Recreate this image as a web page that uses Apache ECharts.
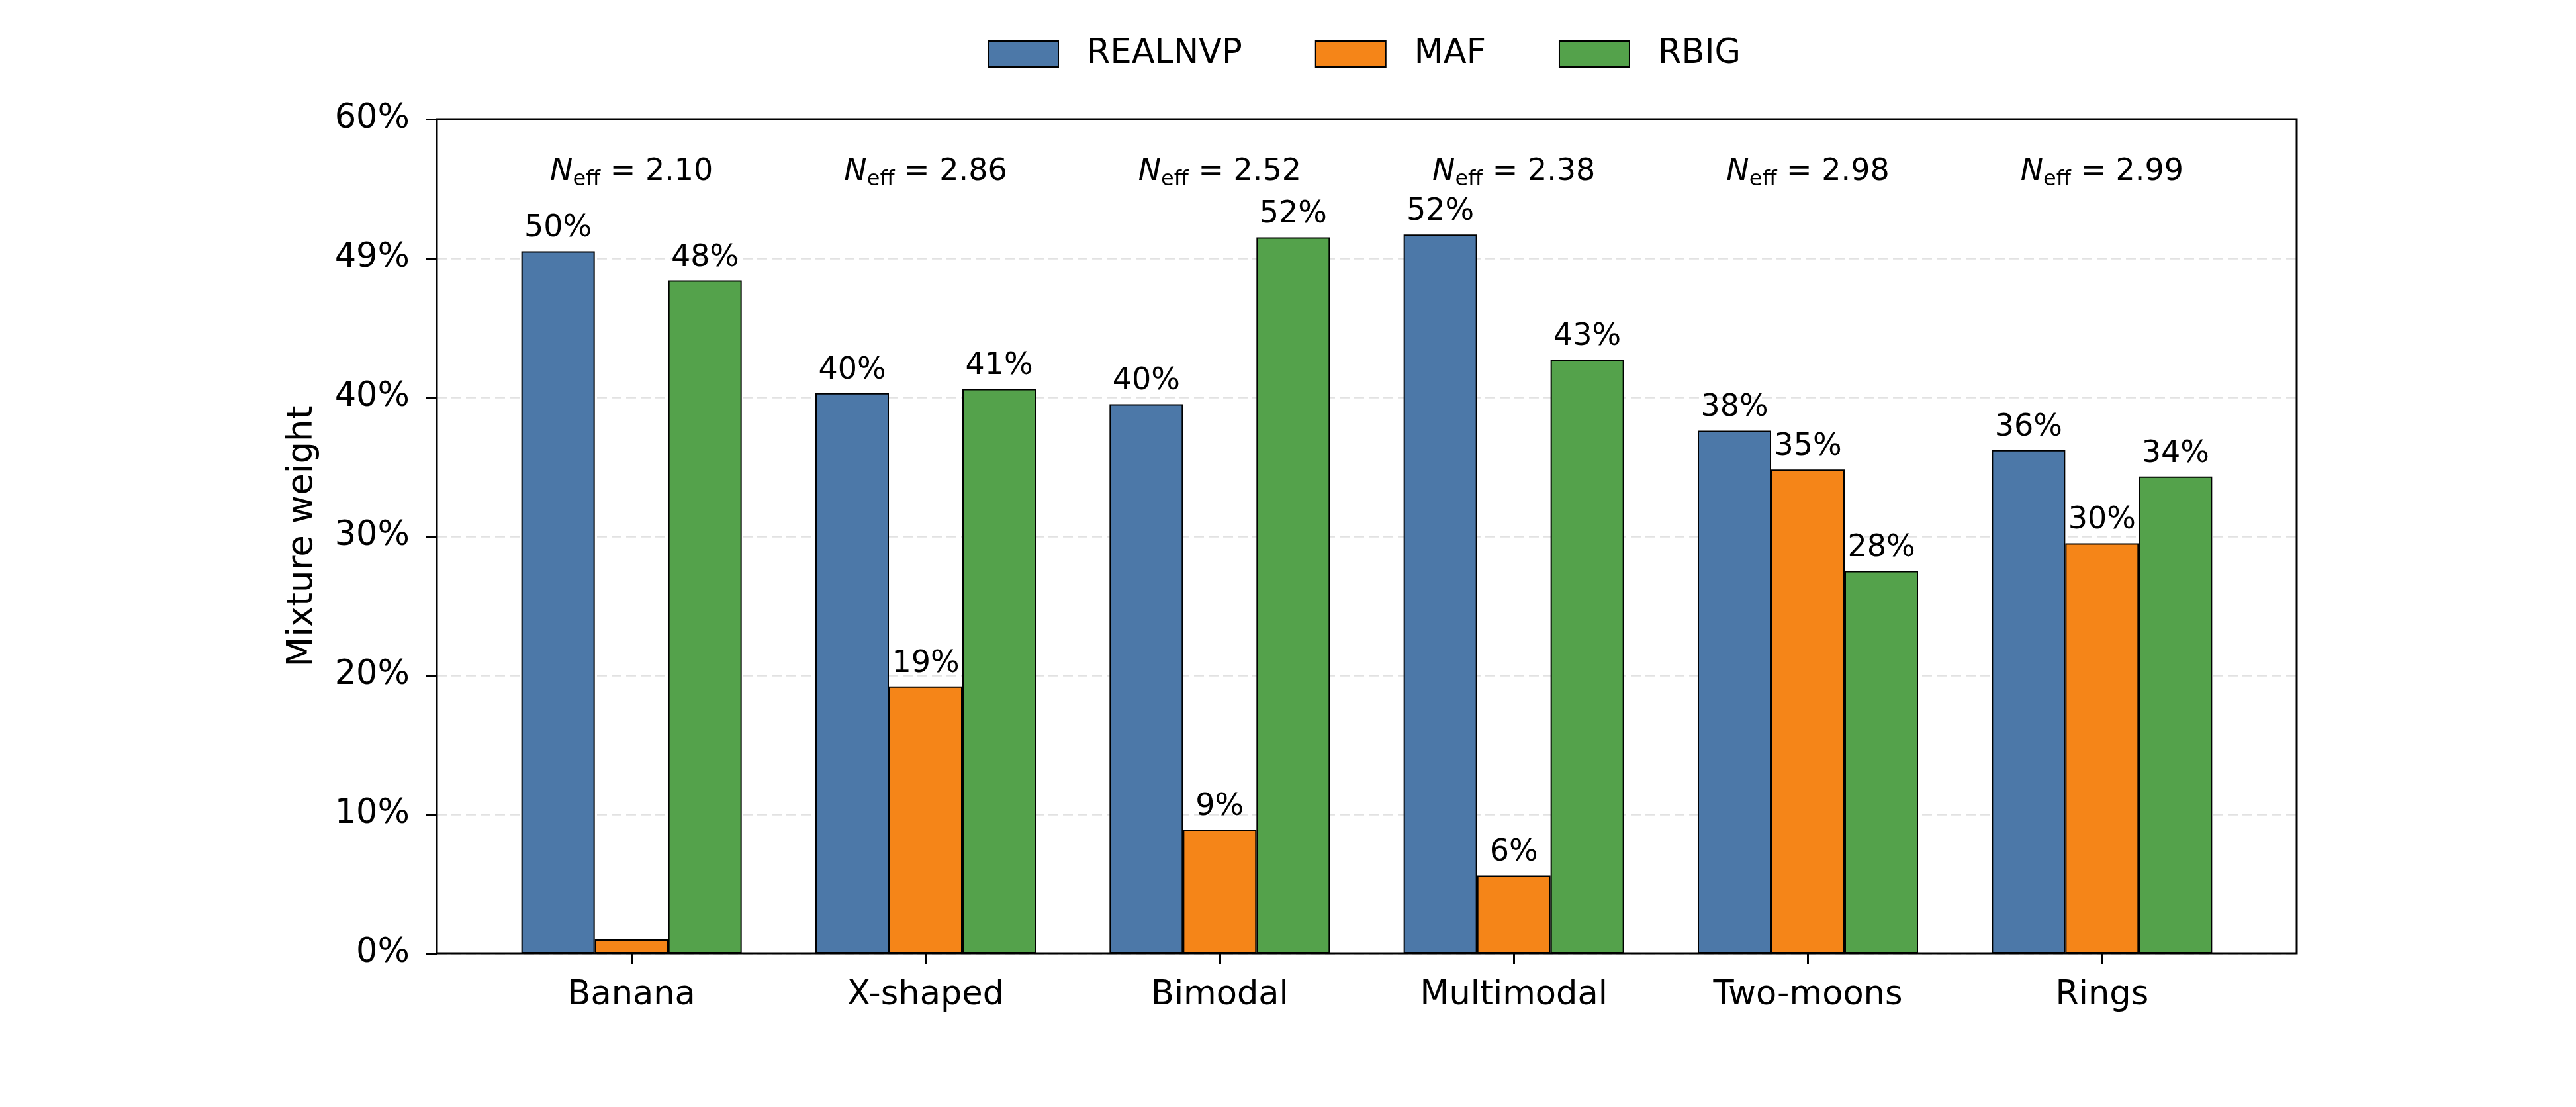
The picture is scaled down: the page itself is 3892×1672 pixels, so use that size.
<!DOCTYPE html>
<html>
<head>
<meta charset="utf-8">
<script src="https://cdn.jsdelivr.net/npm/echarts@6/dist/echarts.min.js"></script>
<style>
html,body{margin:0;padding:0;background:#fff;}
#chart{width:3892px;height:1672px;}
</style>
</head>
<body>
<div id="chart"></div>
<script>
// ---- data ----
const categories = ['Banana', 'X-shaped', 'Bimodal', 'Multimodal', 'Two-moons', 'Rings'];
const seriesNames = ['REALNVP', 'MAF', 'RBIG'];
const realnvp = [50.5, 40.3, 39.5, 51.7, 37.6, 36.2];
const maf     = [1.0, 19.2, 8.9, 5.6, 34.8, 29.5];
const rbig    = [48.4, 40.6, 51.5, 42.7, 27.5, 34.3];
const realnvpLabels = ['50%', '40%', '40%', '52%', '38%', '36%'];
const mafLabels     = ['', '19%', '9%', '6%', '35%', '30%'];
const rbigLabels    = ['48%', '41%', '52%', '43%', '28%', '34%'];
const neffValues = ['2.10', '2.86', '2.52', '2.38', '2.98', '2.99'];
const neffY = 56.2;
const yTickLabels = ['0%', '10%', '20%', '30%', '40%', '49%', '60%'];
const colors = ['#4c78a8', '#f58518', '#54a24b'];

const FONT = 'DejaVu Sans';
const values = [realnvp, maf, rbig];
const labels = [realnvpLabels, mafLabels, rbigLabels];

const chart = echarts.init(document.getElementById('chart'), null, {renderer: 'canvas'});

const barSeries = seriesNames.map((name, i) => ({
  name: name,
  type: 'bar',
  xAxisIndex: 1,
  yAxisIndex: 1,
  data: values[i],
  barWidth: 111,
  barGap: '0%',
  itemStyle: {color: colors[i], borderColor: '#000', borderWidth: 2},
  label: {
    show: true,
    position: 'top',
    distance: 11,
    fontFamily: FONT,
    fontSize: 46,
    color: '#000',
    formatter: p => labels[i][p.dataIndex]
  },
  emphasis: {disabled: true},
  animation: false
}));

const neffSeries = {
  type: 'scatter',
  xAxisIndex: 1,
  yAxisIndex: 1,
  data: categories.map((c, i) => [c, neffY]),
  symbolSize: 1,
  itemStyle: {color: 'rgba(255,255,255,0)'},
  silent: true,
  animation: false,
  emphasis: {disabled: true},
  label: {
    show: true,
    position: 'inside',
    fontFamily: FONT,
    color: '#000',
    opacity: 1,
    textBorderWidth: 0,
    formatter: p => '{n|N}{s|eff}{t| = ' + neffValues[p.dataIndex] + '}',
    rich: {
      n: {fontFamily: FONT, fontStyle: 'italic', fontSize: 46, lineHeight: 56, verticalAlign: 'middle', color: '#000', textBorderWidth: 0},
      s: {fontFamily: FONT, fontSize: 32, lineHeight: 32, verticalAlign: 'bottom', color: '#000', textBorderWidth: 0},
      t: {fontFamily: FONT, fontSize: 46, lineHeight: 56, verticalAlign: 'middle', color: '#000', textBorderWidth: 0}
    }
  }
};

const option = {
  backgroundColor: '#fff',
  animation: false,
  legend: {
    data: seriesNames,
    left: 1487,
    top: 51,
    orient: 'horizontal',
    itemWidth: 106,
    itemHeight: 39,
    itemGap: 110,
    icon: 'rect',
    itemStyle: {borderColor: '#000', borderWidth: 2},
    textStyle: {fontFamily: FONT, fontSize: 51, color: '#000', padding: [0, 0, 0, 38]},
    selectedMode: false
  },
  grid: [
    {left: 660, right: 422, top: 180, bottom: 232, show: true, borderColor: '#000', borderWidth: 3, backgroundColor: 'rgba(0,0,0,0)', z: 5},
    {left: 732, right: 494, top: 180, bottom: 232}
  ],
  xAxis: [
    {gridIndex: 0, type: 'value', min: 0, max: 1, show: false},
    {
      gridIndex: 1, type: 'category', data: categories,
      axisLine: {show: false},
      axisTick: {show: true, alignWithLabel: true, length: 16, lineStyle: {color: '#000', width: 3}},
      axisLabel: {fontFamily: FONT, fontSize: 51, color: '#000', margin: 38},
      splitLine: {show: false}
    }
  ],
  yAxis: [
    {
      gridIndex: 0, type: 'value', min: 0, max: 60, interval: 10,
      name: 'Mixture weight',
      nameLocation: 'middle',
      nameGap: 176,
      nameTextStyle: {fontFamily: FONT, fontSize: 53, color: '#000'},
      axisLine: {show: false},
      axisTick: {show: true, length: 16, lineStyle: {color: '#000', width: 3}},
      axisLabel: {fontFamily: FONT, fontSize: 51, color: '#000', margin: 41,
        formatter: v => yTickLabels[Math.round(v / 10)]},
      splitLine: {show: true, lineStyle: {color: '#e2e2e2', width: 2.5, type: [15, 7]}}
    },
    {gridIndex: 1, type: 'value', min: 0, max: 60, show: false, splitLine: {show: false}}
  ],
  series: barSeries.concat([neffSeries])
};

chart.setOption(option);
</script>
</body>
</html>
